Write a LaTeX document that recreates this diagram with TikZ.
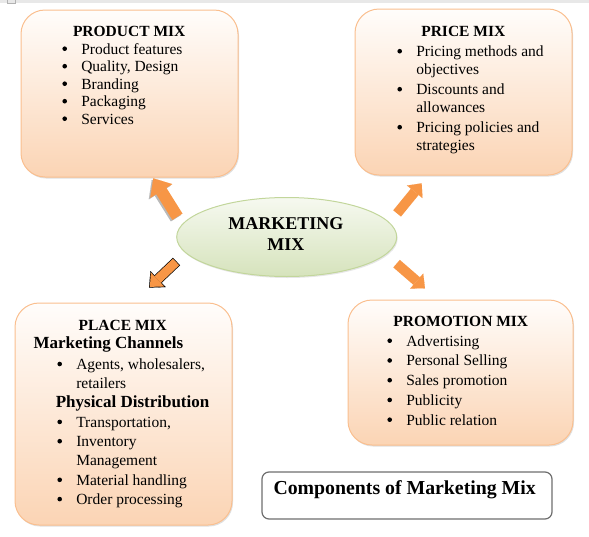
\documentclass[tikz,border=0pt]{standalone}
\usepackage{fontspec}
\setmainfont{Liberation Serif}
\usepackage{tikz}
\usetikzlibrary{arrows.meta}
\usetikzlibrary{shadows}
\usetikzlibrary{shapes.geometric}
\definecolor{boxline}{RGB}{250,191,143}
\definecolor{boxtop}{RGB}{255,253,251}
\definecolor{boxbottom}{RGB}{251,212,180}
\definecolor{ovalline}{RGB}{194,214,155}
\definecolor{ovaltop}{RGB}{246,249,240}
\definecolor{ovalbottom}{RGB}{214,227,188}
\definecolor{arroworange}{RGB}{247,150,70}
\definecolor{captionline}{RGB}{110,110,110}
\newcommand{\bulletgap}{20.5pt}
\newcommand{\mixbullet}{\makebox[\bulletgap][l]{\hspace{1.6pt}\raisebox{3pt}{\tikz\fill[black] (0,0) circle (2.3pt);}}}
\newcommand{\mixwrap}{\hspace*{\bulletgap}}
\tikzstyle{mixbox}=[draw=boxline, line width=1pt, rounded corners=24pt, inner sep=0,
                    top color=boxtop, bottom color=boxbottom,
                    drop shadow={shadow xshift=1pt, shadow yshift=-1.5pt, opacity=0.25}]
\tikzstyle{mixtitle}=[anchor=base, inner sep=0, font=\fontsize{15.5}{17.5}\selectfont\bfseries]
\tikzstyle{mixlist}=[anchor=base west, inner sep=0]
\tikzstyle{mixarrow}=[draw=arroworange, line width=10pt, -{Triangle[length=11pt, width=20pt, line width=0.1pt]}]
\tikzstyle{bigarrow}=[draw=arroworange, line width=12pt, -{Triangle[length=15pt, width=26pt, line width=0.1pt]}]

\begin{document}
\begin{tikzpicture}[x=1pt, y=-1pt]
    \useasboundingbox (0,0) rectangle (589,536);
    % strip at the top of the page
    \fill[gray!18] (0,0) rectangle (589,2.5);
    \draw[gray!60, line width=0.6pt] (7,-1) rectangle (15,3);

    % the four boxes
    \node[mixbox, minimum width=217pt, minimum height=167pt] (prod) at (129.5,93.5) {};
    \node[mixbox, minimum width=217pt, minimum height=166pt] (price) at (463.5,92) {};
    \node[mixbox, minimum width=217pt, minimum height=222pt] (place) at (123.5,414) {};
    \node[mixbox, minimum width=225pt, minimum height=145pt] (promo) at (460.5,372.5) {};

    \node[mixtitle] (prodtitle) at (129.2,36) {PRODUCT MIX};
    \node[mixlist, font=\fontsize{15.5}{17.5}\selectfont] (prodlist) at (60.6,54) {\begin{tabular}[t]{@{}l@{}}
        \mixbullet Product features\\
        \mixbullet Quality, Design\\
        \mixbullet Branding\\
        \mixbullet Packaging\\
        \mixbullet Services
    \end{tabular}};

    \node[mixtitle] (pricetitle) at (463.3,36) {PRICE MIX};
    \node[mixlist, font=\fontsize{15.5}{18}\selectfont] (pricelist) at (395.6,56.5) {\begin{tabular}[t]{@{}l@{}}
        \mixbullet Pricing methods and\\
        \mixwrap objectives\\[2pt]
        \mixbullet Discounts and\\
        \mixwrap allowances\\[2pt]
        \mixbullet Pricing policies and\\
        \mixwrap strategies
    \end{tabular}};

    \node[mixtitle] (placetitle) at (122.8,330.7) {PLACE MIX};
    \node[mixlist, font=\fontsize{17}{19}\selectfont\bfseries] (channels) at (33.3,348.7) {Marketing Channels};
    \node[mixlist, font=\fontsize{15.5}{19.3}\selectfont] (placelist) at (55.6,369.3) {\begin{tabular}[t]{@{}l@{}}
        \mixbullet Agents, wholesalers,\\
        \mixwrap retailers\\
        {\fontsize{17}{19}\selectfont\bfseries Physical Distribution}\\
        \mixbullet Transportation,\\
        \mixbullet Inventory\\
        \mixwrap Management\\
        \mixbullet Material handling\\
        \mixbullet Order processing
    \end{tabular}};

    \node[mixtitle] (promotitle) at (460.8,326) {PROMOTION MIX};
    \node[mixlist, font=\fontsize{15.5}{19.75}\selectfont] (promolist) at (385.6,346) {\begin{tabular}[t]{@{}l@{}}
        \mixbullet Advertising\\
        \mixbullet Personal Selling\\
        \mixbullet Sales promotion\\
        \mixbullet Publicity\\
        \mixbullet Public relation
    \end{tabular}};

    % centre oval
    \node[ellipse, draw=ovalline, line width=1pt, inner sep=0, minimum width=220pt, minimum height=79pt,
          top color=ovaltop, bottom color=ovalbottom,
          drop shadow={shadow xshift=1pt, shadow yshift=-1.5pt, opacity=0.2}] (mm) at (286.7,237) {};
    \node[anchor=base, inner sep=0, font=\fontsize{18}{21.4}\selectfont\bfseries] (mmtext) at (285.8,229.3)
        {\begin{tabular}[t]{@{}c@{}}MARKETING\\MIX\end{tabular}};

    % arrows
    \coordinate (prodtip) at (153.3,178.3);
    \coordinate (pricetip) at (421.7,183.3);
    \coordinate (placetip) at (149,287.7);
    \coordinate (promotip) at (425,288.3);
    \draw[bigarrow, draw=gray!55, shorten <=8.7pt, transform canvas={xshift=-1.5pt, yshift=-1.5pt}] (mm.173) -- (prodtip);
    \draw[bigarrow, shorten <=8.7pt] (mm.173) -- (prodtip);
    \draw[mixarrow, shorten <=11.7pt] (mm.8.2) -- (pricetip);
    \draw[mixarrow, draw=black, line width=10.4pt, -{Triangle[length=12.5pt, width=22pt, line width=0.1pt]},
          shorten <=12.3pt] (mm.189.3) -- (placetip);
    \draw[mixarrow, line width=9pt, -{Triangle[length=10.7pt, width=19pt, line width=0.1pt]},
          shorten <=13pt, shorten >=1.1pt] (mm.189.3) -- (placetip);
    \draw[mixarrow, shorten <=13.9pt] (mm.350.9) -- (promotip);

    % caption
    \node[draw=captionline, line width=1.2pt, rounded corners=7pt, fill=white, inner sep=0,
          minimum width=290pt, minimum height=47pt] (caption) at (407,495.5) {};
    \node[mixlist, font=\fontsize{19.8}{22}\selectfont\bfseries] (captiontext) at (273.3,494) {Components of Marketing Mix};
\end{tikzpicture}
\end{document}
